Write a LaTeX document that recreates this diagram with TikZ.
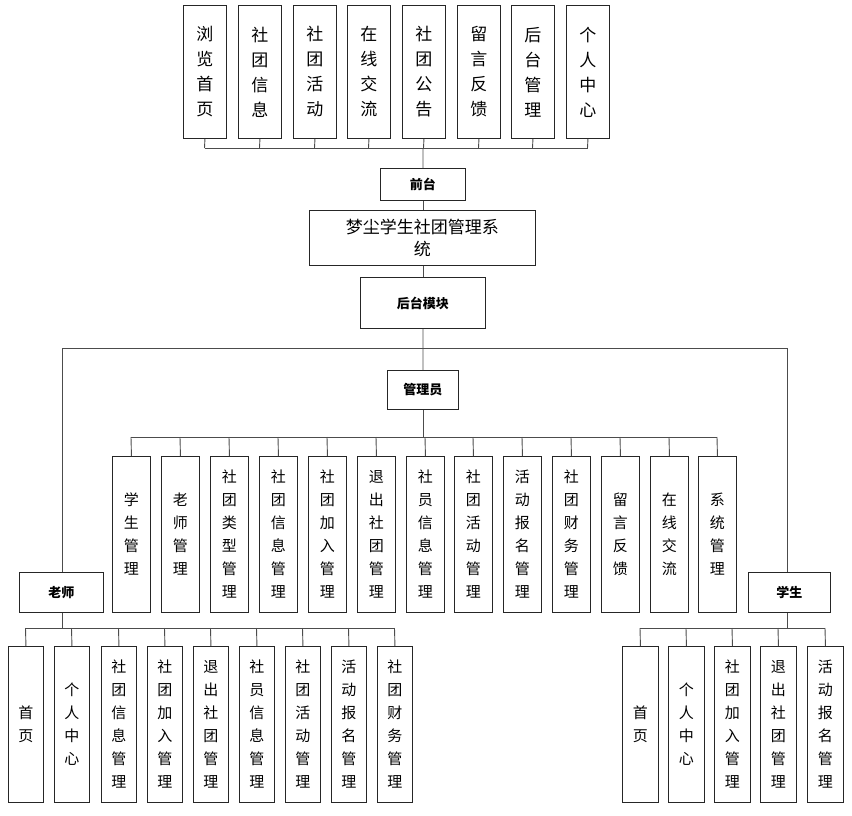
\documentclass[tikz,border=0pt]{standalone}
\usepackage{fontspec}
\setmainfont{Noto Sans CJK SC}
\begin{document}
\begin{tikzpicture}[x=1pt,y=-1pt,
  box/.style={draw=black!85,line width=0.9pt,inner sep=0pt,align=center,anchor=north west},
  vt/.style={box,font=\fontsize{15}{23}\selectfont},
  lab/.style={box,font=\fontsize{13}{16}\selectfont\bfseries},
  ln/.style={draw=black!70,line width=0.9pt}]
\useasboundingbox (0,0) rectangle (852,815);
% top row
\foreach \i/\t [count=\k] in {183/浏\\览\\首\\页,238/社\\团\\信\\息,293/社\\团\\活\\动,347/在\\线\\交\\流,402/社\\团\\公\\告,457/留\\言\\反\\馈,511/后\\台\\管\\理,566/个\\人\\中\\心}{
  \node[vt,font=\fontsize{17}{25}\selectfont,minimum width=43pt,minimum height=133pt] (t\k) at (\i,5) {\t};
  \coordinate (tb\k) at (\i+21.5,148);
  \draw[ln] (t\k.south) -- (tb\k);
}
\draw[ln] (tb1) -- (tb8);
\node[lab,minimum width=85pt,minimum height=32pt] (qt) at (380,168) {前台};
\coordinate (tbm) at (423,148);
\draw[ln] (tbm) -- (qt.north);
\node[box,font=\fontsize{17}{22}\selectfont,text width=220pt,minimum width=226pt,minimum height=55pt] (sys) at (309,210) {梦尘学生社团管理系\\统};
\draw[ln] (qt.south) -- (sys.north -| qt.south);
\node[lab,minimum width=125pt,minimum height=51pt] (ht) at (360,277) {后台模块};
\draw[ln] (sys.south -| ht.north) -- (ht.north);
\coordinate (hb) at (423,348);
\coordinate (hl) at (62,348);
\coordinate (hr) at (787,348);
\draw[ln] (ht.south) -- (hb);
\draw[ln] (hl) -- (hr);
\node[lab,minimum width=71pt,minimum height=39pt] (adm) at (387,370) {管理员};
\draw[ln] (hb) -- (adm.north);
% admin children
\foreach \i/\t [count=\k] in {112/学\\生\\管\\理,161/老\\师\\管\\理,210/社\\团\\类\\型\\管\\理,259/社\\团\\信\\息\\管\\理,308/社\\团\\加\\入\\管\\理,357/退\\出\\社\\团\\管\\理,406/社\\员\\信\\息\\管\\理,454/社\\团\\活\\动\\管\\理,503/活\\动\\报\\名\\管\\理,552/社\\团\\财\\务\\管\\理,601/留\\言\\反\\馈,650/在\\线\\交\\流,698/系\\统\\管\\理}{
  \node[vt,minimum width=38pt,minimum height=156pt] (a\k) at (\i,456) {\t};
  \coordinate (ab\k) at (\i+19,437);
  \draw[ln] (a\k.north) -- (ab\k);
}
\draw[ln] (ab1) -- (ab13);
\draw[ln] (adm.south) -- (adm.south |- ab1);
% teacher
\node[lab,minimum width=84pt,minimum height=40pt] (tea) at (19,572) {老师};
\draw[ln] (hl) -- (tea.north -| hl);
\foreach \i/\t [count=\k] in {8/首\\页,54/个\\人\\中\\心,101/社\\团\\信\\息\\管\\理,147/社\\团\\加\\入\\管\\理,193/退\\出\\社\\团\\管\\理,239/社\\员\\信\\息\\管\\理,285/社\\团\\活\\动\\管\\理,331/活\\动\\报\\名\\管\\理,377/社\\团\\财\\务\\管\\理}{
  \node[vt,minimum width=35pt,minimum height=156pt] (c\k) at (\i,646) {\t};
  \coordinate (cb\k) at (\i+17.5,628);
  \draw[ln] (c\k.north) -- (cb\k);
}
\draw[ln] (cb1) -- (cb9);
\draw[ln] (tea.south -| hl) -- (hl |- cb1);
% student
\node[lab,minimum width=82pt,minimum height=40pt] (stu) at (748,572) {学生};
\draw[ln] (hr) -- (stu.north -| hr);
\foreach \i/\t [count=\k] in {622/首\\页,668/个\\人\\中\\心,714/社\\团\\加\\入\\管\\理,760/退\\出\\社\\团\\管\\理,807/活\\动\\报\\名\\管\\理}{
  \node[vt,minimum width=36pt,minimum height=156pt] (s\k) at (\i,646) {\t};
  \coordinate (sb\k) at (\i+18,628);
  \draw[ln] (s\k.north) -- (sb\k);
}
\draw[ln] (sb1) -- (sb5);
\draw[ln] (stu.south -| hr) -- (hr |- sb1);
\end{tikzpicture}
\end{document}
